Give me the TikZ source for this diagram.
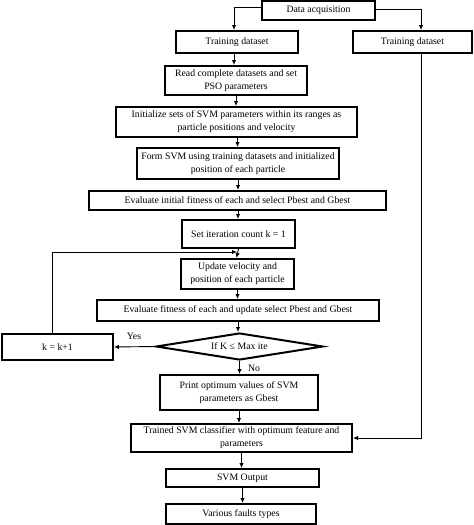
\documentclass[tikz,border=0pt]{standalone}
\usepackage{fontspec}
\setmainfont{Liberation Serif}
\usetikzlibrary{shapes.geometric,arrows.meta}
\begin{document}
\begin{tikzpicture}[x=1pt,y=-1pt,
  box/.style={draw,line width=2pt,inner sep=1pt,align=center,font=\fontsize{9.8}{13}\selectfont},
  arr/.style={line width=0.9pt,-{Latex[length=5pt,width=4.5pt]}},
  lbl/.style={font=\fontsize{9.8}{13}\selectfont,inner sep=0pt}]
\useasboundingbox (0,0) rectangle (474,525);
\node[box,minimum width=113pt,minimum height=19pt] (da) at (318.5,10.5) {Data acquisition};
\node[box,minimum width=122pt,minimum height=22pt] (td1) at (237,42) {Training dataset};
\node[box,minimum width=119pt,minimum height=22pt] (td2) at (412.5,42) {Training dataset};
\node[box,minimum width=142pt,minimum height=29pt] (read) at (236,80.5) {Read complete datasets and set\\PSO parameters};
\node[box,minimum width=241pt,minimum height=30pt] (init) at (236.5,122) {Initialize sets of SVM parameters within its ranges as\\particle positions and velocity};
\node[box,minimum width=202pt,minimum height=31pt] (form) at (238,163.5) {Form SVM using training datasets and initialized\\position of each particle};
\node[box,minimum width=297pt,minimum height=19pt] (evi) at (237.5,200.5) {Evaluate initial fitness of each and select Pbest and Gbest};
\node[box,minimum width=113pt,minimum height=28pt] (set) at (238.5,234) {Set iteration count k = 1};
\node[box,minimum width=113pt,minimum height=30pt] (upd) at (237.5,274) {Update velocity and\\position of each particle};
\node[box,minimum width=282pt,minimum height=21pt] (evf) at (238,310.5) {Evaluate fitness of each and update select Pbest and Gbest};
\node[box,diamond,inner sep=0pt,aspect=6.2,minimum width=167pt,minimum height=27pt] (dia) at (239.5,346.5) {If K ≤ Max ite};
\node[box,minimum width=111pt,minimum height=26pt] (kk) at (57.5,347) {k = k+1};
\node[box,minimum width=158pt,minimum height=35pt] (print) at (239,392.5) {Print optimum values of SVM\\parameters as Gbest};
\node[box,minimum width=221pt,minimum height=28pt] (trained) at (241.5,438) {Trained SVM classifier with optimum feature and\\parameters};
\node[box,minimum width=153pt,minimum height=18pt] (out) at (242.5,478) {SVM Output};
\node[box,minimum width=150pt,minimum height=20pt] (faults) at (241,514) {Various faults types};
\coordinate (m) at (237,252);
\draw[arr] ([yshift=3pt]da.west) -| ([xshift=-3pt]td1.north);
\draw[arr] ([yshift=1pt]da.east) -| ([xshift=8.5pt]td2.north);
\draw[arr] ([xshift=-3pt]td1.south) -- ([xshift=-3pt]td1.south |- read.north);
\draw[arr] (read.south) -- (read.south |- init.north);
\draw[arr] ([xshift=1pt]init.south) -- ([xshift=1pt]init.south |- form.north);
\draw[arr] (form.south) -- (form.south |- evi.north);
\draw[arr] ([xshift=0.5pt]evi.south) -- ([xshift=0.5pt]evi.south |- set.north);
\draw[arr] (set.south) -- ([xshift=-1pt]upd.north);
\draw[arr] (upd.south) -- (upd.south |- evf.north);
\draw[arr] (evf.south) -- (evf.south |- dia.north);
\draw[arr] (dia.south) -- (dia.south |- print.north);
\draw[arr] (print.south) -- (print.south |- trained.north);
\draw[arr] (trained.south) -- (trained.south |- out.north);
\draw[arr] (out.south) -- (out.south |- faults.north);
\draw[arr] (dia.west) -- (kk.east);
\draw[arr] ([xshift=-5.5pt]kk.north) |- (m);
\draw[arr] ([xshift=8.5pt]td2.south) |- (trained.east);
\node[lbl] (yes) at (134,336) {Yes};
\node[lbl] (no) at (254,368) {No};
\end{tikzpicture}
\end{document}
